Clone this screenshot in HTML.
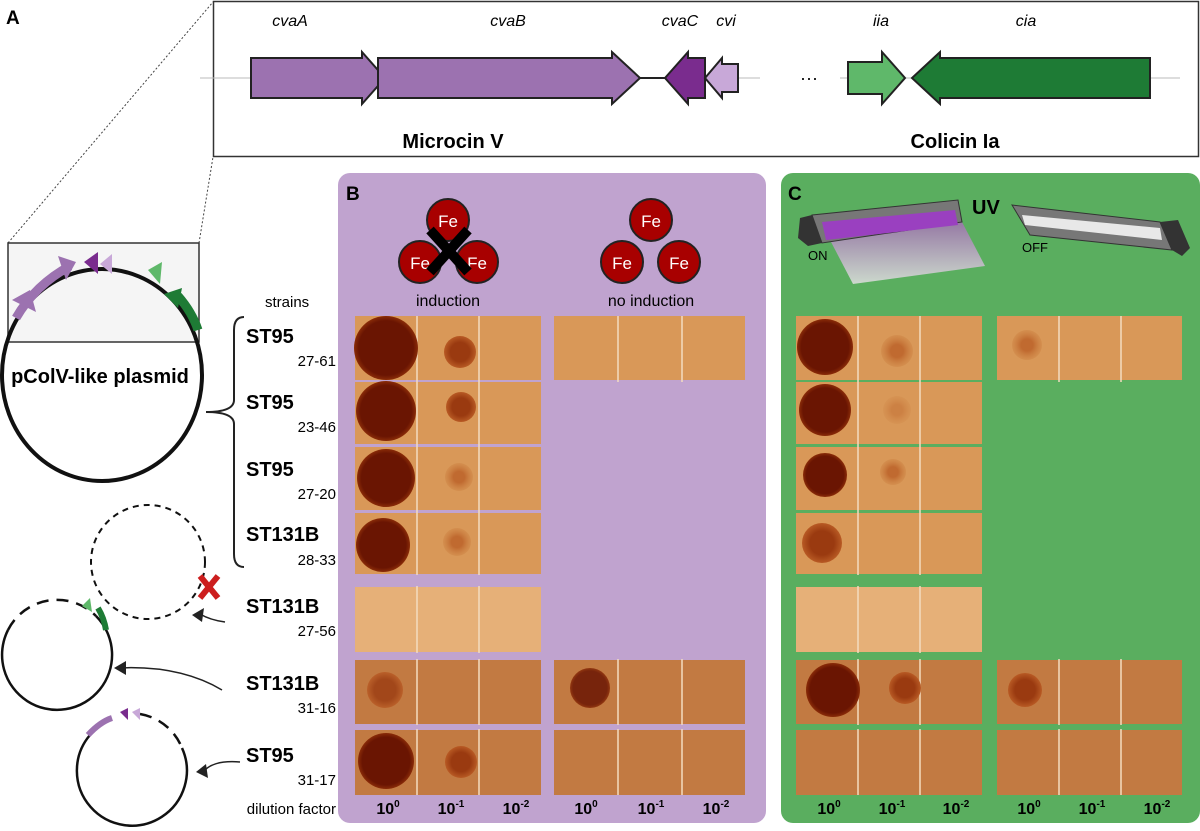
<!DOCTYPE html>
<html><head><meta charset="utf-8"><style>
html,body{margin:0;padding:0;background:#fff}
svg{display:block;font-family:"Liberation Sans",sans-serif}
</style></head><body>
<svg width="1200" height="831" viewBox="0 0 1200 831" xmlns="http://www.w3.org/2000/svg">
<defs>
<radialGradient id="dk"><stop offset="0.85" stop-color="#6a1502"/><stop offset="1" stop-color="#8a2c08"/></radialGradient>
<radialGradient id="md"><stop offset="0.6" stop-color="#9a3a10"/><stop offset="1" stop-color="#b85a24"/></radialGradient>
<radialGradient id="ft"><stop offset="0.4" stop-color="#c06a30"/><stop offset="1" stop-color="#d08848" stop-opacity="0.6"/></radialGradient>
<linearGradient id="beam" x1="0" y1="0" x2="0" y2="1"><stop offset="0" stop-color="#a070b0"/><stop offset="1" stop-color="#e0e0e0"/></linearGradient>
</defs>
<!-- Panel A -->
<text x="6" y="24" font-size="19" font-weight="bold">A</text>
<rect x="213.5" y="1.5" width="985" height="155" fill="#fff" stroke="#333" stroke-width="1.5"/>
<line x1="200" y1="78" x2="760" y2="78" stroke="#bbb" stroke-width="1"/>
<line x1="840" y1="78" x2="1180" y2="78" stroke="#bbb" stroke-width="1"/>
<polygon points="251,58 362,58 362,52 385,78 362,104 362,98 251,98" fill="#9c72b0" stroke="#222" stroke-width="2"/>
<polygon points="378,58 612,58 612,52 640,78 612,104 612,98 378,98" fill="#9c72b0" stroke="#222" stroke-width="2"/>
<line x1="640" y1="78" x2="668" y2="78" stroke="#222" stroke-width="2"/>
<polygon points="705,58 705,98 688,98 688,104 665,78 688,52 688,58" fill="#7a2c8e" stroke="#222" stroke-width="2"/>
<polygon points="738,64 738,92 722,92 722,98 705,78 722,58 722,64" fill="#c8a8d8" stroke="#222" stroke-width="2"/>
<text x="800" y="84" font-size="18">···</text>
<polygon points="848,62 882,62 882,52 905,78 882,104 882,94 848,94" fill="#5fb86a" stroke="#222" stroke-width="2"/>
<polygon points="1150,58 1150,98 940,98 940,104 912,78 940,52 940,58" fill="#1e7b35" stroke="#222" stroke-width="2"/>
<g font-size="16" font-style="italic" text-anchor="middle">
<text x="290" y="26">cvaA</text><text x="508" y="26">cvaB</text><text x="680" y="26">cvaC</text><text x="726" y="26">cvi</text><text x="881" y="26">iia</text><text x="1026" y="26">cia</text>
</g>
<g font-size="20" font-weight="bold" text-anchor="middle"><text x="453" y="148">Microcin V</text><text x="955" y="148">Colicin Ia</text></g>
<line x1="8" y1="243" x2="213" y2="2" stroke="#444" stroke-dasharray="2,2"/>
<line x1="199" y1="243" x2="213" y2="157" stroke="#444" stroke-dasharray="2,2"/>
<!-- big plasmid -->
<rect x="8" y="243" width="191" height="99" fill="#f5f5f5" stroke="#333" stroke-width="1.5"/>
<ellipse cx="102" cy="375" rx="100" ry="106" fill="none" stroke="#111" stroke-width="4"/>
<path d="M16,318 Q35,285 70,266" fill="none" stroke="#9c72b0" stroke-width="9"/>
<polygon points="12,300 30,290 36,312" fill="#9c72b0"/><polygon points="58,256 76,262 66,280" fill="#9c72b0"/>
<polygon points="84,262 98,252 98,274" fill="#7a2c8e"/><polygon points="100,264 112,254 112,274" fill="#c8a8d8"/>
<polygon points="148,270 162,262 160,284" fill="#5fb86a"/>
<path d="M178,296 Q192,312 198,330" fill="none" stroke="#1e7b35" stroke-width="9"/>
<polygon points="164,294 182,288 178,308" fill="#1e7b35"/>
<text x="100" y="383" font-size="20" font-weight="bold" text-anchor="middle">pColV-like plasmid</text>
<!-- brace -->
<path d="M244,317 Q234,317 234,330 L234,400 Q234,412 206,412 Q234,412 234,424 L234,554 Q234,567 244,567" fill="none" stroke="#222" stroke-width="2"/>
<!-- small plasmids -->
<circle cx="148" cy="562" r="57" fill="none" stroke="#111" stroke-width="2" stroke-dasharray="6,5"/>
<g stroke="#cc1e1e" stroke-width="6"><line x1="200" y1="576" x2="218" y2="598"/><line x1="218" y1="576" x2="200" y2="598"/></g>
<path d="M8,630 A55,55 0 0 1 96,616" fill="none" stroke="#111" stroke-width="2.5" stroke-dasharray="12,8"/>
<path d="M96,616 A55,55 0 1 1 8,630" fill="none" stroke="#111" stroke-width="2.5"/>
<path d="M98,608 Q104,618 106,630" stroke="#1e7b35" stroke-width="6" fill="none"/>
<polygon points="82,606 90,598 92,612" fill="#5fb86a"/>
<path d="M140,714 A55,55 0 0 1 182,748" fill="none" stroke="#111" stroke-width="2.5" stroke-dasharray="12,8"/>
<path d="M182,748 A55,55 0 1 1 90,735" fill="none" stroke="#111" stroke-width="2.5"/>
<path d="M88,735 Q100,722 112,718" stroke="#9c72b0" stroke-width="6" fill="none"/>
<polygon points="120,712 128,708 128,720" fill="#7a2c8e"/><polygon points="132,712 140,708 140,720" fill="#c8a8d8"/>
<g fill="none" stroke="#222" stroke-width="1.5">
<path d="M225,622 Q210,620 200,614"/><path d="M222,690 Q180,665 118,668"/><path d="M240,762 Q215,760 205,770"/>
</g>
<g fill="#222"><polygon points="192,615 204,608 202,622"/><polygon points="114,668 126,661 126,675"/><polygon points="196,772 206,764 208,778"/></g>
<!-- labels -->
<text x="265" y="307" font-size="15">strains</text>
<g font-size="20" font-weight="bold">
<text x="246" y="343">ST95</text><text x="246" y="409">ST95</text><text x="246" y="476">ST95</text><text x="246" y="541">ST131B</text>
<text x="246" y="613">ST131B</text><text x="246" y="690">ST131B</text><text x="246" y="762">ST95</text></g>
<g font-size="15" text-anchor="end">
<text x="336" y="366">27-61</text><text x="336" y="432">23-46</text><text x="336" y="499">27-20</text><text x="336" y="565">28-33</text>
<text x="336" y="636">27-56</text><text x="336" y="713">31-16</text><text x="336" y="785">31-17</text>
<text x="336" y="814">dilution factor</text></g>
<!-- Panel B -->
<rect x="338" y="173" width="428" height="650" rx="12" fill="#c0a3cf"/>
<text x="346" y="200" font-size="19" font-weight="bold">B</text>
<g fill="#a80000" stroke="#222" stroke-width="2">
<circle cx="448" cy="220" r="21"/><circle cx="420" cy="262" r="21"/><circle cx="477" cy="262" r="21"/>
<circle cx="651" cy="220" r="21"/><circle cx="622" cy="262" r="21"/><circle cx="679" cy="262" r="21"/></g>
<g fill="#fff" font-size="17" text-anchor="middle">
<text x="448" y="227">Fe</text><text x="420" y="269">Fe</text><text x="477" y="269">Fe</text>
<text x="651" y="227">Fe</text><text x="622" y="269">Fe</text><text x="679" y="269">Fe</text></g>
<g stroke="#000" stroke-width="10"><line x1="430" y1="230" x2="468" y2="272"/><line x1="468" y1="230" x2="430" y2="272"/></g>
<g font-size="16" text-anchor="middle"><text x="448" y="306">induction</text><text x="651" y="306">no induction</text>
<text x="893" y="306">induction</text><text x="1090" y="306">no induction</text></g>
<!-- Panel C -->
<rect x="781" y="173" width="419" height="650" rx="12" fill="#5aae5f"/>
<text x="788" y="200" font-size="19" font-weight="bold">C</text>
<text x="972" y="214" font-size="20" font-weight="bold">UV</text>
<polygon points="830,240 962,222 985,266 853,284" fill="url(#beam)" opacity="0.85"/>
<polygon points="812,215 958,200 962,222 822,243" fill="#777" stroke="#333"/>
<polygon points="822,222 955,210 958,225 826,240" fill="#9a40c0"/>
<polygon points="800,218 812,215 822,243 808,246 798,238" fill="#333"/>
<text x="808" y="260" font-size="13">ON</text>
<polygon points="1012,205 1160,222 1172,250 1030,235" fill="#777" stroke="#333"/>
<polygon points="1022,215 1160,228 1162,240 1025,225" fill="#e8e8e8"/>
<polygon points="1160,222 1178,220 1190,248 1182,256 1172,250" fill="#333"/>
<text x="1022" y="252" font-size="13">OFF</text>
<!-- plates -->
<g fill="#d99858">
<rect x="355" y="316" width="186" height="64"/><rect x="355" y="382" width="186" height="62"/><rect x="355" y="447" width="186" height="63"/><rect x="355" y="513" width="186" height="61"/>
<rect x="554" y="316" width="191" height="64"/>
<rect x="796" y="316" width="186" height="64"/><rect x="796" y="382" width="186" height="62"/><rect x="796" y="447" width="186" height="63"/><rect x="796" y="513" width="186" height="61"/>
<rect x="997" y="316" width="185" height="64"/></g>
<g fill="#e6b078"><rect x="355" y="587" width="186" height="65"/><rect x="796" y="587" width="186" height="65"/></g>
<g fill="#c27a42">
<rect x="355" y="660" width="186" height="64"/><rect x="554" y="660" width="191" height="64"/><rect x="796" y="660" width="186" height="64"/><rect x="997" y="660" width="185" height="64"/>
<rect x="355" y="730" width="186" height="65"/><rect x="554" y="730" width="191" height="65"/><rect x="796" y="730" width="186" height="65"/><rect x="997" y="730" width="185" height="65"/></g>
<g stroke="#f4dcc0" stroke-width="1.5">
<line x1="417" y1="316" x2="417" y2="795"/><line x1="479" y1="316" x2="479" y2="795"/>
<line x1="618" y1="316" x2="618" y2="795"/><line x1="682" y1="316" x2="682" y2="795"/>
<line x1="858" y1="316" x2="858" y2="795"/><line x1="920" y1="316" x2="920" y2="795"/>
<line x1="1059" y1="316" x2="1059" y2="795"/><line x1="1121" y1="316" x2="1121" y2="795"/></g>
<g fill="#c0a3cf"><rect x="554" y="382" width="191" height="276"/><rect x="339" y="575" width="426" height="11"/><rect x="339" y="653" width="426" height="6"/><rect x="339" y="725" width="426" height="4"/></g>
<g fill="#5aae5f"><rect x="997" y="382" width="185" height="276"/><rect x="782" y="575" width="417" height="11"/><rect x="782" y="653" width="417" height="6"/><rect x="782" y="725" width="417" height="4"/></g>
<g>
<circle cx="386" cy="348" r="32" fill="url(#dk)"/><circle cx="460" cy="352" r="16" fill="url(#md)"/>
<circle cx="386" cy="411" r="30" fill="url(#dk)"/><circle cx="461" cy="407" r="15" fill="url(#md)"/>
<circle cx="386" cy="478" r="29" fill="url(#dk)"/><circle cx="459" cy="477" r="14" fill="url(#ft)"/>
<circle cx="383" cy="545" r="27" fill="url(#dk)"/><circle cx="457" cy="542" r="14" fill="url(#ft)"/>
<circle cx="385" cy="690" r="18" fill="url(#md)" opacity="0.8"/>
<circle cx="386" cy="761" r="28" fill="url(#dk)"/><circle cx="461" cy="762" r="16" fill="url(#md)"/>
<circle cx="590" cy="688" r="20" fill="url(#dk)" opacity="0.85"/>
<circle cx="825" cy="347" r="28" fill="url(#dk)"/><circle cx="897" cy="351" r="16" fill="url(#ft)"/>
<circle cx="825" cy="410" r="26" fill="url(#dk)"/><circle cx="897" cy="410" r="14" fill="url(#ft)" opacity="0.5"/>
<circle cx="825" cy="475" r="22" fill="url(#dk)"/><circle cx="893" cy="472" r="13" fill="url(#ft)"/>
<circle cx="822" cy="543" r="20" fill="url(#md)"/>
<circle cx="833" cy="690" r="27" fill="url(#dk)"/><circle cx="905" cy="688" r="16" fill="url(#md)"/>
<circle cx="1027" cy="345" r="15" fill="url(#ft)"/><circle cx="1025" cy="690" r="17" fill="url(#md)"/>
</g>
<g font-size="16" font-weight="bold" text-anchor="middle">
<text x="388" y="814">10<tspan font-size="10" dy="-7">0</tspan></text><text x="451" y="814">10<tspan font-size="10" dy="-7">-1</tspan></text><text x="516" y="814">10<tspan font-size="10" dy="-7">-2</tspan></text>
<text x="586" y="814">10<tspan font-size="10" dy="-7">0</tspan></text><text x="651" y="814">10<tspan font-size="10" dy="-7">-1</tspan></text><text x="716" y="814">10<tspan font-size="10" dy="-7">-2</tspan></text>
<text x="829" y="814">10<tspan font-size="10" dy="-7">0</tspan></text><text x="892" y="814">10<tspan font-size="10" dy="-7">-1</tspan></text><text x="956" y="814">10<tspan font-size="10" dy="-7">-2</tspan></text>
<text x="1029" y="814">10<tspan font-size="10" dy="-7">0</tspan></text><text x="1092" y="814">10<tspan font-size="10" dy="-7">-1</tspan></text><text x="1157" y="814">10<tspan font-size="10" dy="-7">-2</tspan></text>
</g>
</svg>
</body></html>
